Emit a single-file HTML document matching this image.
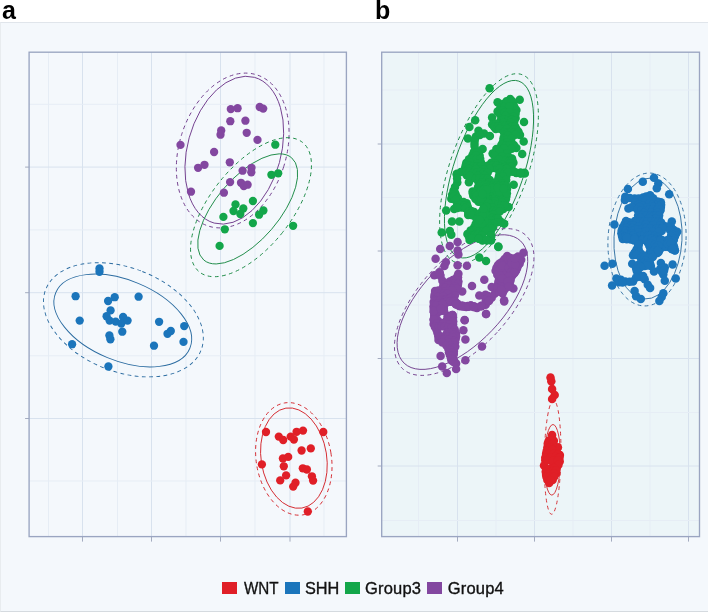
<!DOCTYPE html>
<html><head><meta charset="utf-8"><title>Figure</title>
<style>
html,body{margin:0;padding:0;background:#fff;}
body{width:709px;height:613px;position:relative;overflow:hidden;font-family:"Liberation Sans",sans-serif;}
.lab{position:absolute;font-weight:bold;font-size:25px;line-height:25px;color:#000;}
#bgbox{position:absolute;left:0;top:22px;width:707.7px;height:589.8px;background:#f4f8fc;border-top:1px solid #e0e5eb;border-left:1.7px solid #e8ecef;border-bottom:1px solid #d5dadf;box-sizing:border-box;}
svg{position:absolute;left:0;top:0;}
.leg{position:absolute;top:577.5px;font-size:16.5px;line-height:20px;color:#111;white-space:nowrap;transform-origin:0 50%;-webkit-text-stroke:0.35px #111;}
.sw{position:absolute;top:582px;width:15px;height:11.5px;}
</style></head><body>
<div id="bgbox"></div>
<div class="lab" style="left:2.1px;top:-2px;">a</div>
<div class="lab" style="left:375px;top:-2px;">b</div>
<svg width="709" height="613" viewBox="0 0 709 613">
<rect x="29.1" y="52.2" width="317.29999999999995" height="484.40000000000003" fill="#f4f8fc"/>
<line x1="48.5" y1="52.2" x2="48.5" y2="536.6" stroke="#e6edf5" stroke-width="1"/>
<line x1="82.5" y1="52.2" x2="82.5" y2="536.6" stroke="#d8e2ee" stroke-width="1"/>
<line x1="117.5" y1="52.2" x2="117.5" y2="536.6" stroke="#e6edf5" stroke-width="1"/>
<line x1="151.5" y1="52.2" x2="151.5" y2="536.6" stroke="#d8e2ee" stroke-width="1"/>
<line x1="186" y1="52.2" x2="186" y2="536.6" stroke="#e6edf5" stroke-width="1"/>
<line x1="220.5" y1="52.2" x2="220.5" y2="536.6" stroke="#d8e2ee" stroke-width="1"/>
<line x1="255" y1="52.2" x2="255" y2="536.6" stroke="#e6edf5" stroke-width="1"/>
<line x1="290" y1="52.2" x2="290" y2="536.6" stroke="#d8e2ee" stroke-width="1"/>
<line x1="324" y1="52.2" x2="324" y2="536.6" stroke="#e6edf5" stroke-width="1"/>
<line x1="29.1" y1="104.3" x2="346.4" y2="104.3" stroke="#e6edf5" stroke-width="1"/>
<line x1="29.1" y1="167.1" x2="346.4" y2="167.1" stroke="#d8e2ee" stroke-width="1"/>
<line x1="29.1" y1="229.9" x2="346.4" y2="229.9" stroke="#e6edf5" stroke-width="1"/>
<line x1="29.1" y1="292.7" x2="346.4" y2="292.7" stroke="#d8e2ee" stroke-width="1"/>
<line x1="29.1" y1="355.8" x2="346.4" y2="355.8" stroke="#e6edf5" stroke-width="1"/>
<line x1="29.1" y1="418.5" x2="346.4" y2="418.5" stroke="#d8e2ee" stroke-width="1"/>
<line x1="29.1" y1="481" x2="346.4" y2="481" stroke="#e6edf5" stroke-width="1"/>
<line x1="82.5" y1="536.6" x2="82.5" y2="541.6" stroke="#8f98b0" stroke-width="0.8"/>
<line x1="151.5" y1="536.6" x2="151.5" y2="541.6" stroke="#8f98b0" stroke-width="0.8"/>
<line x1="220.5" y1="536.6" x2="220.5" y2="541.6" stroke="#8f98b0" stroke-width="0.8"/>
<line x1="290" y1="536.6" x2="290" y2="541.6" stroke="#8f98b0" stroke-width="0.8"/>
<line x1="25.1" y1="167.1" x2="29.1" y2="167.1" stroke="#8f98b0" stroke-width="0.8"/>
<line x1="25.1" y1="292.7" x2="29.1" y2="292.7" stroke="#8f98b0" stroke-width="0.8"/>
<line x1="25.1" y1="418.5" x2="29.1" y2="418.5" stroke="#8f98b0" stroke-width="0.8"/>
<rect x="29.1" y="52.2" width="317.29999999999995" height="484.40000000000003" fill="none" stroke="#9aa5c1" stroke-width="1.35"/>
<rect x="381.7" y="52.2" width="317.8" height="484.40000000000003" fill="#ecf5f8"/>
<line x1="418.5" y1="52.2" x2="418.5" y2="536.6" stroke="#e6edf5" stroke-width="1"/>
<line x1="457.5" y1="52.2" x2="457.5" y2="536.6" stroke="#d8e2ee" stroke-width="1"/>
<line x1="496" y1="52.2" x2="496" y2="536.6" stroke="#e6edf5" stroke-width="1"/>
<line x1="534.5" y1="52.2" x2="534.5" y2="536.6" stroke="#d8e2ee" stroke-width="1"/>
<line x1="573" y1="52.2" x2="573" y2="536.6" stroke="#e6edf5" stroke-width="1"/>
<line x1="611.5" y1="52.2" x2="611.5" y2="536.6" stroke="#d8e2ee" stroke-width="1"/>
<line x1="650" y1="52.2" x2="650" y2="536.6" stroke="#e6edf5" stroke-width="1"/>
<line x1="688.5" y1="52.2" x2="688.5" y2="536.6" stroke="#d8e2ee" stroke-width="1"/>
<line x1="381.7" y1="90" x2="699.5" y2="90" stroke="#e6edf5" stroke-width="1"/>
<line x1="381.7" y1="144" x2="699.5" y2="144" stroke="#d8e2ee" stroke-width="1"/>
<line x1="381.7" y1="197.5" x2="699.5" y2="197.5" stroke="#e6edf5" stroke-width="1"/>
<line x1="381.7" y1="251" x2="699.5" y2="251" stroke="#d8e2ee" stroke-width="1"/>
<line x1="381.7" y1="305" x2="699.5" y2="305" stroke="#e6edf5" stroke-width="1"/>
<line x1="381.7" y1="358.5" x2="699.5" y2="358.5" stroke="#d8e2ee" stroke-width="1"/>
<line x1="381.7" y1="412.5" x2="699.5" y2="412.5" stroke="#e6edf5" stroke-width="1"/>
<line x1="381.7" y1="466" x2="699.5" y2="466" stroke="#d8e2ee" stroke-width="1"/>
<line x1="381.7" y1="520.5" x2="699.5" y2="520.5" stroke="#e6edf5" stroke-width="1"/>
<line x1="457.5" y1="536.6" x2="457.5" y2="541.6" stroke="#8f98b0" stroke-width="0.8"/>
<line x1="534.5" y1="536.6" x2="534.5" y2="541.6" stroke="#8f98b0" stroke-width="0.8"/>
<line x1="611.5" y1="536.6" x2="611.5" y2="541.6" stroke="#8f98b0" stroke-width="0.8"/>
<line x1="688.5" y1="536.6" x2="688.5" y2="541.6" stroke="#8f98b0" stroke-width="0.8"/>
<line x1="377.7" y1="144" x2="381.7" y2="144" stroke="#8f98b0" stroke-width="0.8"/>
<line x1="377.7" y1="251" x2="381.7" y2="251" stroke="#8f98b0" stroke-width="0.8"/>
<line x1="377.7" y1="358.5" x2="381.7" y2="358.5" stroke="#8f98b0" stroke-width="0.8"/>
<line x1="377.7" y1="466" x2="381.7" y2="466" stroke="#8f98b0" stroke-width="0.8"/>
<rect x="381.7" y="52.2" width="317.8" height="484.40000000000003" fill="none" stroke="#9aa5c1" stroke-width="1.35"/>
<ellipse cx="234.3" cy="150.2" rx="46.8" ry="75.6" transform="rotate(15.4 234.3 150.2)" fill="none" stroke="#733f8e" stroke-width="0.9"/>
<ellipse cx="232.7" cy="150.5" rx="53.5" ry="79.4" transform="rotate(17.6 232.7 150.5)" fill="none" stroke="#733f8e" stroke-width="0.9" stroke-dasharray="3.8 3.4"/>
<ellipse cx="247.7" cy="208.9" rx="31.4" ry="67.4" transform="rotate(40.7 247.7 208.9)" fill="none" stroke="#1d8b47" stroke-width="0.9"/>
<ellipse cx="251.0" cy="207.2" rx="40.4" ry="82.8" transform="rotate(38.5 251.0 207.2)" fill="none" stroke="#1d8b47" stroke-width="0.9" stroke-dasharray="3.8 3.4"/>
<ellipse cx="122.8" cy="320.5" rx="40.2" ry="72.6" transform="rotate(-67.5 122.8 320.5)" fill="none" stroke="#2a6ba0" stroke-width="0.9"/>
<ellipse cx="123.4" cy="319.8" rx="51.9" ry="83.4" transform="rotate(-68.6 123.4 319.8)" fill="none" stroke="#2a6ba0" stroke-width="0.9" stroke-dasharray="3.8 3.4"/>
<ellipse cx="293.9" cy="458.1" rx="32.8" ry="50.6" transform="rotate(-9.1 293.9 458.1)" fill="none" stroke="#d3242a" stroke-width="0.9"/>
<ellipse cx="293.8" cy="458.9" rx="37.6" ry="56.7" transform="rotate(-9.3 293.8 458.9)" fill="none" stroke="#d3242a" stroke-width="0.9" stroke-dasharray="3.8 3.4"/>
<g fill="#8347a0"><circle cx="230.8" cy="109.1" r="4.15"/><circle cx="237.6" cy="108.2" r="4.15"/><circle cx="259.7" cy="107" r="4.15"/><circle cx="263.2" cy="108.6" r="4.15"/><circle cx="230.3" cy="121.2" r="4.15"/><circle cx="245.4" cy="120.7" r="4.15"/><circle cx="221.2" cy="130.5" r="4.15"/><circle cx="220.5" cy="134.7" r="4.15"/><circle cx="246.7" cy="132.8" r="4.15"/><circle cx="257.5" cy="139.9" r="4.15"/><circle cx="180.5" cy="144.9" r="4.15"/><circle cx="214.1" cy="152" r="4.15"/><circle cx="204.5" cy="164.8" r="4.15"/><circle cx="198.1" cy="167.8" r="4.15"/><circle cx="229.8" cy="162.3" r="4.15"/><circle cx="242.6" cy="170.7" r="4.15"/><circle cx="251.5" cy="167.8" r="4.15"/><circle cx="251.3" cy="172.3" r="4.15"/><circle cx="230.1" cy="182.1" r="4.15"/><circle cx="241" cy="182.8" r="4.15"/><circle cx="243.8" cy="186" r="4.15"/><circle cx="247.6" cy="184.7" r="4.15"/><circle cx="191" cy="191.7" r="4.15"/><circle cx="223.9" cy="192.7" r="4.15"/></g>
<g fill="#13a64a"><circle cx="275.3" cy="144.7" r="4.15"/><circle cx="271.4" cy="174.8" r="4.15"/><circle cx="278.2" cy="173.3" r="4.15"/><circle cx="252.9" cy="201" r="4.15"/><circle cx="235.5" cy="204.4" r="4.15"/><circle cx="243.3" cy="208.5" r="4.15"/><circle cx="233.5" cy="211" r="4.15"/><circle cx="240.3" cy="214" r="4.15"/><circle cx="263.4" cy="210.5" r="4.15"/><circle cx="259.1" cy="214.7" r="4.15"/><circle cx="223.4" cy="216.9" r="4.15"/><circle cx="252.9" cy="223.1" r="4.15"/><circle cx="224.8" cy="229.3" r="4.15"/><circle cx="293.1" cy="225.8" r="4.15"/><circle cx="219.6" cy="245.9" r="4.15"/></g>
<g fill="#1b75bb"><circle cx="99.5" cy="268.5" r="4.15"/><circle cx="99.5" cy="271.8" r="4.15"/><circle cx="75.6" cy="296.2" r="4.15"/><circle cx="114.7" cy="297.2" r="4.15"/><circle cx="108.1" cy="301" r="4.15"/><circle cx="138.6" cy="296.7" r="4.15"/><circle cx="110.6" cy="310.4" r="4.15"/><circle cx="106.6" cy="316.2" r="4.15"/><circle cx="109.6" cy="320.6" r="4.15"/><circle cx="115.7" cy="321.6" r="4.15"/><circle cx="123.1" cy="317" r="4.15"/><circle cx="121.3" cy="323.6" r="4.15"/><circle cx="127.6" cy="320.6" r="4.15"/><circle cx="79.7" cy="320.6" r="4.15"/><circle cx="122.3" cy="331.7" r="4.15"/><circle cx="109.4" cy="335.5" r="4.15"/><circle cx="110.4" cy="339.3" r="4.15"/><circle cx="159.1" cy="321.8" r="4.15"/><circle cx="170.8" cy="331" r="4.15"/><circle cx="167.5" cy="333.8" r="4.15"/><circle cx="184.2" cy="326.1" r="4.15"/><circle cx="183.5" cy="341.9" r="4.15"/><circle cx="154" cy="345.7" r="4.15"/><circle cx="72.1" cy="344.2" r="4.15"/><circle cx="108.4" cy="366.5" r="4.15"/></g>
<g fill="#e01f27"><circle cx="266" cy="432" r="4.15"/><circle cx="323.3" cy="432" r="4.15"/><circle cx="278.8" cy="436.6" r="4.15"/><circle cx="283.2" cy="440" r="4.15"/><circle cx="290.7" cy="436.6" r="4.15"/><circle cx="293.9" cy="439.5" r="4.15"/><circle cx="296.6" cy="431.8" r="4.15"/><circle cx="303" cy="430.6" r="4.15"/><circle cx="301.6" cy="450.5" r="4.15"/><circle cx="310.8" cy="448.4" r="4.15"/><circle cx="282.9" cy="458.5" r="4.15"/><circle cx="288.2" cy="456.9" r="4.15"/><circle cx="261.9" cy="464.4" r="4.15"/><circle cx="283.8" cy="466.3" r="4.15"/><circle cx="302.8" cy="468.3" r="4.15"/><circle cx="306.9" cy="469.5" r="4.15"/><circle cx="311.9" cy="476.3" r="4.15"/><circle cx="313.1" cy="480.6" r="4.15"/><circle cx="286.1" cy="475.4" r="4.15"/><circle cx="280.2" cy="480.4" r="4.15"/><circle cx="295.5" cy="482.7" r="4.15"/><circle cx="293.2" cy="486.6" r="4.15"/><circle cx="307.8" cy="511.5" r="4.15"/></g>
<ellipse cx="489.0" cy="169.2" rx="35" ry="93" transform="rotate(18.7 489.0 169.2)" fill="none" stroke="#1d8b47" stroke-width="0.9"/>
<ellipse cx="489.0" cy="168.6" rx="39" ry="99.6" transform="rotate(19.3 489.0 168.6)" fill="none" stroke="#1d8b47" stroke-width="0.9" stroke-dasharray="3.8 3.4"/>
<ellipse cx="462.4" cy="302.1" rx="41.0" ry="84.4" transform="rotate(43.6 462.4 302.1)" fill="none" stroke="#733f8e" stroke-width="0.9"/>
<ellipse cx="464.2" cy="302.0" rx="44.8" ry="90.8" transform="rotate(42.6 464.2 302.0)" fill="none" stroke="#733f8e" stroke-width="0.9" stroke-dasharray="3.8 3.4"/>
<ellipse cx="648" cy="238.5" rx="34" ry="60.5" transform="rotate(3 648 238.5)" fill="none" stroke="#2a6ba0" stroke-width="0.9"/>
<ellipse cx="647" cy="239.5" rx="39" ry="66.5" transform="rotate(3 647 239.5)" fill="none" stroke="#2a6ba0" stroke-width="0.9" stroke-dasharray="3.8 3.4"/>
<ellipse cx="552.4" cy="459.8" rx="8.1" ry="35.3" transform="rotate(1 552.4 459.8)" fill="none" stroke="#d3242a" stroke-width="0.9"/>
<ellipse cx="552.6" cy="457.3" rx="8.3" ry="57" transform="rotate(1 552.6 457.3)" fill="none" stroke="#d3242a" stroke-width="0.9" stroke-dasharray="3.8 3.4"/>
<g fill="#13a64a"><circle cx="489.6" cy="88.2" r="4.25"/><circle cx="510.2" cy="99" r="4.25"/><circle cx="519.7" cy="99.7" r="4.25"/><circle cx="497.6" cy="102.3" r="4.25"/><circle cx="503.1" cy="104.1" r="4.25"/><circle cx="513.4" cy="104.1" r="4.25"/><circle cx="516.4" cy="110" r="4.25"/><circle cx="497.6" cy="111.4" r="4.25"/><circle cx="506.8" cy="109.2" r="4.25"/><circle cx="492.1" cy="117.6" r="4.25"/><circle cx="501.7" cy="116.6" r="4.25"/><circle cx="510.5" cy="115.8" r="4.25"/><circle cx="515.6" cy="118" r="4.25"/><circle cx="524" cy="122" r="4.25"/><circle cx="492.1" cy="124.6" r="4.25"/><circle cx="500.2" cy="123.2" r="4.25"/><circle cx="507.5" cy="122.4" r="4.25"/><circle cx="513.4" cy="123.9" r="4.25"/><circle cx="495.8" cy="129" r="4.25"/><circle cx="503.1" cy="129" r="4.25"/><circle cx="510.5" cy="129" r="4.25"/><circle cx="516.4" cy="129" r="4.25"/><circle cx="475.2" cy="120.2" r="4.25"/><circle cx="469.4" cy="126.9" r="4.25"/><circle cx="478.5" cy="130.8" r="4.25"/><circle cx="484.1" cy="133.5" r="4.25"/><circle cx="489.9" cy="136.1" r="4.25"/><circle cx="467.9" cy="138.6" r="4.25"/><circle cx="476" cy="136.4" r="4.25"/><circle cx="474.5" cy="143" r="4.25"/><circle cx="504.6" cy="135.7" r="4.25"/><circle cx="512" cy="134.9" r="4.25"/><circle cx="520" cy="134.9" r="4.25"/><circle cx="523.7" cy="141.5" r="4.25"/><circle cx="503.1" cy="141.5" r="4.25"/><circle cx="510.5" cy="142.3" r="4.25"/><circle cx="516.4" cy="148.1" r="4.25"/><circle cx="522.2" cy="154" r="4.25"/><circle cx="482.6" cy="148.9" r="4.25"/><circle cx="475.2" cy="149.6" r="4.25"/><circle cx="500.2" cy="148.1" r="4.25"/><circle cx="507.5" cy="149.6" r="4.25"/><circle cx="472.3" cy="155.5" r="4.25"/><circle cx="479.6" cy="155.5" r="4.25"/><circle cx="498.7" cy="155.5" r="4.25"/><circle cx="506.1" cy="157" r="4.25"/><circle cx="512" cy="158.4" r="4.25"/><circle cx="466.4" cy="162.8" r="4.25"/><circle cx="473.8" cy="162.8" r="4.25"/><circle cx="481.1" cy="162.8" r="4.25"/><circle cx="491.4" cy="162.8" r="4.25"/><circle cx="498.7" cy="164.3" r="4.25"/><circle cx="506.1" cy="164.3" r="4.25"/><circle cx="513.4" cy="162.8" r="4.25"/><circle cx="465" cy="169.4" r="4.25"/><circle cx="472.3" cy="170.2" r="4.25"/><circle cx="479.6" cy="170.2" r="4.25"/><circle cx="485.5" cy="169.4" r="4.25"/><circle cx="500.2" cy="170.2" r="4.25"/><circle cx="507.5" cy="170.2" r="4.25"/><circle cx="456.9" cy="173.8" r="4.25"/><circle cx="516.4" cy="172.8" r="4.25"/><circle cx="524.4" cy="172.8" r="4.25"/><circle cx="465.2" cy="167.9" r="4.25"/><circle cx="472.6" cy="169.4" r="4.25"/><circle cx="479.9" cy="169.4" r="4.25"/><circle cx="486.5" cy="169.4" r="4.25"/><circle cx="494.6" cy="167.9" r="4.25"/><circle cx="503.4" cy="168.7" r="4.25"/><circle cx="510" cy="169.4" r="4.25"/><circle cx="516.3" cy="173.1" r="4.25"/><circle cx="524.7" cy="173.5" r="4.25"/><circle cx="456.7" cy="174.5" r="4.25"/><circle cx="466.7" cy="175.3" r="4.25"/><circle cx="474.1" cy="176" r="4.25"/><circle cx="481.4" cy="175.3" r="4.25"/><circle cx="499" cy="176" r="4.25"/><circle cx="506.4" cy="176" r="4.25"/><circle cx="457.3" cy="182.6" r="4.25"/><circle cx="468.9" cy="182.3" r="4.25"/><circle cx="478.5" cy="181.9" r="4.25"/><circle cx="485.8" cy="181.9" r="4.25"/><circle cx="491.7" cy="183.4" r="4.25"/><circle cx="498.3" cy="183.4" r="4.25"/><circle cx="505.6" cy="184.1" r="4.25"/><circle cx="513.7" cy="184.8" r="4.25"/><circle cx="453.5" cy="190.7" r="4.25"/><circle cx="455.7" cy="194.4" r="4.25"/><circle cx="472.6" cy="191.4" r="4.25"/><circle cx="478.5" cy="190.7" r="4.25"/><circle cx="473.3" cy="195.8" r="4.25"/><circle cx="487.3" cy="196.6" r="4.25"/><circle cx="494.6" cy="196.6" r="4.25"/><circle cx="499" cy="195.8" r="4.25"/><circle cx="506.4" cy="196.6" r="4.25"/><circle cx="451.3" cy="198.8" r="4.25"/><circle cx="459.4" cy="201.7" r="4.25"/><circle cx="466.7" cy="203.2" r="4.25"/><circle cx="478.5" cy="201.7" r="4.25"/><circle cx="484.3" cy="201.7" r="4.25"/><circle cx="491.7" cy="200.2" r="4.25"/><circle cx="499" cy="202.4" r="4.25"/><circle cx="504.9" cy="201.7" r="4.25"/><circle cx="446.2" cy="210.5" r="4.25"/><circle cx="454.2" cy="209.1" r="4.25"/><circle cx="461.6" cy="207.6" r="4.25"/><circle cx="468.2" cy="209.1" r="4.25"/><circle cx="474.1" cy="212" r="4.25"/><circle cx="488.7" cy="207.6" r="4.25"/><circle cx="496.1" cy="207.6" r="4.25"/><circle cx="503.4" cy="209.1" r="4.25"/><circle cx="508.6" cy="206.9" r="4.25"/><circle cx="468.2" cy="214.9" r="4.25"/><circle cx="475.5" cy="216.4" r="4.25"/><circle cx="490.2" cy="214.9" r="4.25"/><circle cx="496.1" cy="214.9" r="4.25"/><circle cx="452" cy="221.5" r="4.25"/><circle cx="459.4" cy="221.5" r="4.25"/><circle cx="488.7" cy="220.8" r="4.25"/><circle cx="494.6" cy="222.3" r="4.25"/><circle cx="500.5" cy="221.5" r="4.25"/><circle cx="504.2" cy="223.7" r="4.25"/><circle cx="474.1" cy="227.4" r="4.25"/><circle cx="479.9" cy="225.2" r="4.25"/><circle cx="485.8" cy="225.2" r="4.25"/><circle cx="491.7" cy="226.7" r="4.25"/><circle cx="441.7" cy="232.5" r="4.25"/><circle cx="449.8" cy="231.1" r="4.25"/><circle cx="451.3" cy="234.8" r="4.25"/><circle cx="467.4" cy="234" r="4.25"/><circle cx="474.1" cy="232.5" r="4.25"/><circle cx="481.4" cy="231.1" r="4.25"/><circle cx="490.9" cy="231.1" r="4.25"/><circle cx="469.6" cy="239.9" r="4.25"/><circle cx="475.5" cy="237.7" r="4.25"/><circle cx="482.9" cy="239.9" r="4.25"/><circle cx="490.9" cy="239.9" r="4.25"/><circle cx="498.3" cy="246.5" r="4.25"/><circle cx="483" cy="187.5" r="4.25"/><circle cx="489" cy="188.2" r="4.25"/><circle cx="495" cy="187.5" r="4.25"/><circle cx="501" cy="188.5" r="4.25"/><circle cx="507" cy="189" r="4.25"/><circle cx="481.5" cy="212" r="4.25"/><circle cx="483" cy="218" r="4.25"/><circle cx="477.5" cy="221.5" r="4.25"/><circle cx="484.5" cy="206.5" r="4.25"/><circle cx="480.5" cy="196" r="4.25"/><circle cx="484" cy="192" r="4.25"/><circle cx="498.4" cy="247.1" r="4.25"/><circle cx="479.3" cy="257.5" r="4.25"/><circle cx="486" cy="261.1" r="4.25"/><circle cx="491" cy="240.4" r="4.25"/><circle cx="482.4" cy="240.4" r="4.25"/><circle cx="506.5" cy="101.2" r="4.25"/><circle cx="512.0" cy="101.1" r="4.25"/><circle cx="500.4" cy="107.6" r="4.25"/><circle cx="504.5" cy="106.7" r="4.25"/><circle cx="514.4" cy="107.0" r="4.25"/><circle cx="509.7" cy="106.2" r="4.25"/><circle cx="513.4" cy="113.2" r="4.25"/><circle cx="515.6" cy="113.7" r="4.25"/><circle cx="502.3" cy="110.7" r="4.25"/><circle cx="499.7" cy="113.9" r="4.25"/><circle cx="504.7" cy="112.4" r="4.25"/><circle cx="509.0" cy="112.3" r="4.25"/><circle cx="505.7" cy="115.8" r="4.25"/><circle cx="500.8" cy="120.2" r="4.25"/><circle cx="504.3" cy="119.6" r="4.25"/><circle cx="513.2" cy="116.8" r="4.25"/><circle cx="509.0" cy="118.7" r="4.25"/><circle cx="511.5" cy="119.6" r="4.25"/><circle cx="511.7" cy="120.1" r="4.25"/><circle cx="514.3" cy="121.0" r="4.25"/><circle cx="496.1" cy="123.7" r="4.25"/><circle cx="494.2" cy="127.0" r="4.25"/><circle cx="503.6" cy="122.9" r="4.25"/><circle cx="498.0" cy="126.5" r="4.25"/><circle cx="501.9" cy="125.9" r="4.25"/><circle cx="510.9" cy="122.8" r="4.25"/><circle cx="505.2" cy="126.0" r="4.25"/><circle cx="508.7" cy="125.7" r="4.25"/><circle cx="511.5" cy="126.6" r="4.25"/><circle cx="515.2" cy="126.5" r="4.25"/><circle cx="499.8" cy="128.8" r="4.25"/><circle cx="507.0" cy="129.1" r="4.25"/><circle cx="503.9" cy="132.3" r="4.25"/><circle cx="513.8" cy="129.4" r="4.25"/><circle cx="507.5" cy="132.5" r="4.25"/><circle cx="510.8" cy="132.2" r="4.25"/><circle cx="514.3" cy="132.4" r="4.25"/><circle cx="518.5" cy="131.7" r="4.25"/><circle cx="479.9" cy="135.1" r="4.25"/><circle cx="474.8" cy="139.7" r="4.25"/><circle cx="474.5" cy="145.9" r="4.25"/><circle cx="507.9" cy="135.6" r="4.25"/><circle cx="503.5" cy="138.3" r="4.25"/><circle cx="507.4" cy="139.4" r="4.25"/><circle cx="515.6" cy="134.8" r="4.25"/><circle cx="511.3" cy="139.0" r="4.25"/><circle cx="507.1" cy="142.3" r="4.25"/><circle cx="501.4" cy="144.7" r="4.25"/><circle cx="505.2" cy="145.9" r="4.25"/><circle cx="513.9" cy="144.9" r="4.25"/><circle cx="508.7" cy="145.7" r="4.25"/><circle cx="511.7" cy="148.8" r="4.25"/><circle cx="473.8" cy="152.3" r="4.25"/><circle cx="476.9" cy="152.5" r="4.25"/><circle cx="496.4" cy="148.9" r="4.25"/><circle cx="492.6" cy="153.5" r="4.25"/><circle cx="495.8" cy="152.7" r="4.25"/><circle cx="504.0" cy="148.4" r="4.25"/><circle cx="499.8" cy="152.1" r="4.25"/><circle cx="507.2" cy="153.6" r="4.25"/><circle cx="475.8" cy="155.4" r="4.25"/><circle cx="469.0" cy="159.3" r="4.25"/><circle cx="472.6" cy="158.7" r="4.25"/><circle cx="476.4" cy="158.8" r="4.25"/><circle cx="480.2" cy="158.7" r="4.25"/><circle cx="494.6" cy="155.9" r="4.25"/><circle cx="501.9" cy="156.6" r="4.25"/><circle cx="498.8" cy="159.5" r="4.25"/><circle cx="508.8" cy="157.5" r="4.25"/><circle cx="506.0" cy="160.3" r="4.25"/><circle cx="510.1" cy="160.4" r="4.25"/><circle cx="509.0" cy="161.3" r="4.25"/><circle cx="512.3" cy="160.2" r="4.25"/><circle cx="469.9" cy="162.6" r="4.25"/><circle cx="466.0" cy="165.8" r="4.25"/><circle cx="468.9" cy="167.0" r="4.25"/><circle cx="465.8" cy="165.0" r="4.25"/><circle cx="469.5" cy="165.6" r="4.25"/><circle cx="477.5" cy="163.3" r="4.25"/><circle cx="473.4" cy="166.7" r="4.25"/><circle cx="476.5" cy="166.4" r="4.25"/><circle cx="472.9" cy="166.4" r="4.25"/><circle cx="476.9" cy="166.4" r="4.25"/><circle cx="480.2" cy="166.2" r="4.25"/><circle cx="483.6" cy="166.6" r="4.25"/><circle cx="480.9" cy="166.4" r="4.25"/><circle cx="484.1" cy="166.3" r="4.25"/><circle cx="494.8" cy="163.6" r="4.25"/><circle cx="488.3" cy="165.6" r="4.25"/><circle cx="491.7" cy="166.3" r="4.25"/><circle cx="488.7" cy="166.3" r="4.25"/><circle cx="493.5" cy="165.3" r="4.25"/><circle cx="502.8" cy="164.8" r="4.25"/><circle cx="496.3" cy="167.1" r="4.25"/><circle cx="499.2" cy="167.0" r="4.25"/><circle cx="496.3" cy="165.8" r="4.25"/><circle cx="501.2" cy="166.9" r="4.25"/><circle cx="510.1" cy="163.5" r="4.25"/><circle cx="503.3" cy="167.5" r="4.25"/><circle cx="506.4" cy="167.4" r="4.25"/><circle cx="505.2" cy="166.8" r="4.25"/><circle cx="508.3" cy="166.8" r="4.25"/><circle cx="510.1" cy="166.8" r="4.25"/><circle cx="511.5" cy="166.4" r="4.25"/><circle cx="469.1" cy="169.7" r="4.25"/><circle cx="460.9" cy="172.0" r="4.25"/><circle cx="469.0" cy="169.1" r="4.25"/><circle cx="465.5" cy="172.0" r="4.25"/><circle cx="476.4" cy="170.5" r="4.25"/><circle cx="468.4" cy="169.4" r="4.25"/><circle cx="476.6" cy="170.0" r="4.25"/><circle cx="469.4" cy="172.8" r="4.25"/><circle cx="472.8" cy="172.6" r="4.25"/><circle cx="483.0" cy="169.9" r="4.25"/><circle cx="476.1" cy="170.2" r="4.25"/><circle cx="483.0" cy="170.2" r="4.25"/><circle cx="477.2" cy="172.8" r="4.25"/><circle cx="480.3" cy="172.5" r="4.25"/><circle cx="488.9" cy="169.9" r="4.25"/><circle cx="482.5" cy="169.3" r="4.25"/><circle cx="489.7" cy="169.1" r="4.25"/><circle cx="483.3" cy="172.3" r="4.25"/><circle cx="487.2" cy="173.1" r="4.25"/><circle cx="503.5" cy="170.2" r="4.25"/><circle cx="497.6" cy="169.1" r="4.25"/><circle cx="501.6" cy="169.5" r="4.25"/><circle cx="499.7" cy="173.4" r="4.25"/><circle cx="502.9" cy="173.2" r="4.25"/><circle cx="511.7" cy="171.3" r="4.25"/><circle cx="505.7" cy="169.5" r="4.25"/><circle cx="508.8" cy="170.1" r="4.25"/><circle cx="512.3" cy="171.6" r="4.25"/><circle cx="507.1" cy="173.1" r="4.25"/><circle cx="457.1" cy="178.4" r="4.25"/><circle cx="520.4" cy="172.8" r="4.25"/><circle cx="513.2" cy="171.5" r="4.25"/><circle cx="520.7" cy="173.5" r="4.25"/><circle cx="520.8" cy="172.7" r="4.25"/><circle cx="469.0" cy="169.1" r="4.25"/><circle cx="466.3" cy="171.2" r="4.25"/><circle cx="475.9" cy="169.3" r="4.25"/><circle cx="469.2" cy="172.1" r="4.25"/><circle cx="472.9" cy="172.9" r="4.25"/><circle cx="483.5" cy="169.8" r="4.25"/><circle cx="476.7" cy="172.9" r="4.25"/><circle cx="480.8" cy="172.0" r="4.25"/><circle cx="483.7" cy="172.8" r="4.25"/><circle cx="487.5" cy="172.7" r="4.25"/><circle cx="499.5" cy="168.6" r="4.25"/><circle cx="506.7" cy="168.9" r="4.25"/><circle cx="500.9" cy="172.2" r="4.25"/><circle cx="505.1" cy="171.9" r="4.25"/><circle cx="513.2" cy="171.2" r="4.25"/><circle cx="507.7" cy="172.5" r="4.25"/><circle cx="520.6" cy="173.3" r="4.25"/><circle cx="470.0" cy="176.1" r="4.25"/><circle cx="478.0" cy="176.1" r="4.25"/><circle cx="475.9" cy="178.7" r="4.25"/><circle cx="484.6" cy="175.9" r="4.25"/><circle cx="479.7" cy="178.2" r="4.25"/><circle cx="483.5" cy="179.0" r="4.25"/><circle cx="487.6" cy="178.7" r="4.25"/><circle cx="489.8" cy="180.1" r="4.25"/><circle cx="502.8" cy="176.2" r="4.25"/><circle cx="498.2" cy="179.3" r="4.25"/><circle cx="506.2" cy="180.0" r="4.25"/><circle cx="455.0" cy="187.1" r="4.25"/><circle cx="482.3" cy="182.2" r="4.25"/><circle cx="478.1" cy="186.7" r="4.25"/><circle cx="480.3" cy="185.1" r="4.25"/><circle cx="488.7" cy="182.5" r="4.25"/><circle cx="484.5" cy="185.1" r="4.25"/><circle cx="487.2" cy="184.7" r="4.25"/><circle cx="495.0" cy="183.1" r="4.25"/><circle cx="490.0" cy="185.5" r="4.25"/><circle cx="492.9" cy="185.2" r="4.25"/><circle cx="501.8" cy="183.6" r="4.25"/><circle cx="496.9" cy="185.2" r="4.25"/><circle cx="499.7" cy="185.6" r="4.25"/><circle cx="503.1" cy="185.8" r="4.25"/><circle cx="506.1" cy="186.1" r="4.25"/><circle cx="454.8" cy="192.6" r="4.25"/><circle cx="452.1" cy="194.7" r="4.25"/><circle cx="453.9" cy="196.2" r="4.25"/><circle cx="457.9" cy="198.0" r="4.25"/><circle cx="475.5" cy="191.4" r="4.25"/><circle cx="472.8" cy="193.6" r="4.25"/><circle cx="476.7" cy="194.2" r="4.25"/><circle cx="475.7" cy="193.6" r="4.25"/><circle cx="481.0" cy="189.2" r="4.25"/><circle cx="479.4" cy="193.2" r="4.25"/><circle cx="480.8" cy="191.0" r="4.25"/><circle cx="475.5" cy="199.0" r="4.25"/><circle cx="476.7" cy="195.6" r="4.25"/><circle cx="490.5" cy="196.9" r="4.25"/><circle cx="486.2" cy="199.3" r="4.25"/><circle cx="489.3" cy="198.1" r="4.25"/><circle cx="487.9" cy="192.4" r="4.25"/><circle cx="483.6" cy="196.2" r="4.25"/><circle cx="485.4" cy="194.8" r="4.25"/><circle cx="497.3" cy="196.2" r="4.25"/><circle cx="492.9" cy="198.9" r="4.25"/><circle cx="496.6" cy="199.4" r="4.25"/><circle cx="494.3" cy="191.9" r="4.25"/><circle cx="502.7" cy="196.2" r="4.25"/><circle cx="495.1" cy="198.0" r="4.25"/><circle cx="498.5" cy="198.9" r="4.25"/><circle cx="501.5" cy="198.6" r="4.25"/><circle cx="496.5" cy="191.2" r="4.25"/><circle cx="499.8" cy="191.9" r="4.25"/><circle cx="502.8" cy="199.5" r="4.25"/><circle cx="505.9" cy="199.3" r="4.25"/><circle cx="506.9" cy="193.2" r="4.25"/><circle cx="455.2" cy="200.1" r="4.25"/><circle cx="463.5" cy="202.1" r="4.25"/><circle cx="457.0" cy="205.5" r="4.25"/><circle cx="460.0" cy="205.0" r="4.25"/><circle cx="464.5" cy="205.5" r="4.25"/><circle cx="467.7" cy="206.5" r="4.25"/><circle cx="481.0" cy="201.7" r="4.25"/><circle cx="479.8" cy="199.2" r="4.25"/><circle cx="488.1" cy="201.3" r="4.25"/><circle cx="486.7" cy="204.8" r="4.25"/><circle cx="484.1" cy="203.6" r="4.25"/><circle cx="482.0" cy="198.7" r="4.25"/><circle cx="495.0" cy="201.6" r="4.25"/><circle cx="490.3" cy="204.0" r="4.25"/><circle cx="494.0" cy="204.1" r="4.25"/><circle cx="488.1" cy="202.9" r="4.25"/><circle cx="502.2" cy="202.3" r="4.25"/><circle cx="497.6" cy="205.0" r="4.25"/><circle cx="501.4" cy="205.3" r="4.25"/><circle cx="504.4" cy="205.2" r="4.25"/><circle cx="457.5" cy="208.1" r="4.25"/><circle cx="465.1" cy="208.1" r="4.25"/><circle cx="471.4" cy="211.0" r="4.25"/><circle cx="468.2" cy="211.9" r="4.25"/><circle cx="471.1" cy="213.6" r="4.25"/><circle cx="475.1" cy="214.3" r="4.25"/><circle cx="492.0" cy="207.4" r="4.25"/><circle cx="489.7" cy="211.1" r="4.25"/><circle cx="485.2" cy="209.3" r="4.25"/><circle cx="486.2" cy="206.8" r="4.25"/><circle cx="499.9" cy="208.5" r="4.25"/><circle cx="493.3" cy="211.0" r="4.25"/><circle cx="496.1" cy="211.2" r="4.25"/><circle cx="499.7" cy="211.6" r="4.25"/><circle cx="472.2" cy="215.3" r="4.25"/><circle cx="479.0" cy="214.6" r="4.25"/><circle cx="478.8" cy="217.2" r="4.25"/><circle cx="476.8" cy="219.4" r="4.25"/><circle cx="493.1" cy="214.7" r="4.25"/><circle cx="489.2" cy="218.3" r="4.25"/><circle cx="492.1" cy="218.7" r="4.25"/><circle cx="485.5" cy="213.5" r="4.25"/><circle cx="487.1" cy="216.1" r="4.25"/><circle cx="492.7" cy="217.9" r="4.25"/><circle cx="495.7" cy="218.8" r="4.25"/><circle cx="498.0" cy="218.6" r="4.25"/><circle cx="491.6" cy="221.1" r="4.25"/><circle cx="486.8" cy="223.0" r="4.25"/><circle cx="490.2" cy="223.6" r="4.25"/><circle cx="485.5" cy="219.2" r="4.25"/><circle cx="497.4" cy="222.2" r="4.25"/><circle cx="489.7" cy="224.0" r="4.25"/><circle cx="493.5" cy="224.1" r="4.25"/><circle cx="493.2" cy="226.9" r="4.25"/><circle cx="477.4" cy="226.1" r="4.25"/><circle cx="470.6" cy="230.6" r="4.25"/><circle cx="474.6" cy="230.0" r="4.25"/><circle cx="477.6" cy="229.2" r="4.25"/><circle cx="475.6" cy="224.0" r="4.25"/><circle cx="482.5" cy="225.5" r="4.25"/><circle cx="476.8" cy="229.3" r="4.25"/><circle cx="480.4" cy="227.9" r="4.25"/><circle cx="481.5" cy="221.3" r="4.25"/><circle cx="478.6" cy="223.8" r="4.25"/><circle cx="489.1" cy="226.3" r="4.25"/><circle cx="483.7" cy="228.6" r="4.25"/><circle cx="488.8" cy="228.2" r="4.25"/><circle cx="484.6" cy="221.1" r="4.25"/><circle cx="481.9" cy="223.3" r="4.25"/><circle cx="491.6" cy="229.0" r="4.25"/><circle cx="470.5" cy="232.8" r="4.25"/><circle cx="468.9" cy="236.6" r="4.25"/><circle cx="471.4" cy="235.7" r="4.25"/><circle cx="477.5" cy="232.0" r="4.25"/><circle cx="472.3" cy="236.0" r="4.25"/><circle cx="475.0" cy="234.9" r="4.25"/><circle cx="486.2" cy="231.0" r="4.25"/><circle cx="478.1" cy="234.1" r="4.25"/><circle cx="481.9" cy="235.9" r="4.25"/><circle cx="481.9" cy="235.5" r="4.25"/><circle cx="491.3" cy="236.0" r="4.25"/><circle cx="490.9" cy="235.4" r="4.25"/><circle cx="472.2" cy="238.4" r="4.25"/><circle cx="479.0" cy="238.4" r="4.25"/><circle cx="478.7" cy="238.8" r="4.25"/><circle cx="487.0" cy="240.3" r="4.25"/><circle cx="487.2" cy="240.1" r="4.25"/><circle cx="486.6" cy="240.2" r="4.25"/><circle cx="485.9" cy="187.7" r="4.25"/><circle cx="481.3" cy="191.5" r="4.25"/><circle cx="484.0" cy="189.4" r="4.25"/><circle cx="492.0" cy="188.0" r="4.25"/><circle cx="486.9" cy="189.8" r="4.25"/><circle cx="497.8" cy="187.7" r="4.25"/><circle cx="503.9" cy="188.7" r="4.25"/><circle cx="482.7" cy="215.3" r="4.25"/><circle cx="483.4" cy="208.8" r="4.25"/><circle cx="479.8" cy="220.0" r="4.25"/><circle cx="482.6" cy="194.0" r="4.25"/><circle cx="486.8" cy="239.9" r="4.25"/></g>
<g fill="#8347a0"><circle cx="457.6" cy="242" r="4.25"/><circle cx="449.8" cy="245.9" r="4.25"/><circle cx="440.2" cy="249" r="4.25"/><circle cx="457.6" cy="250.5" r="4.25"/><circle cx="458.4" cy="254.4" r="4.25"/><circle cx="435.6" cy="258.7" r="4.25"/><circle cx="445.9" cy="262.2" r="4.25"/><circle cx="444.4" cy="266" r="4.25"/><circle cx="457.6" cy="265.3" r="4.25"/><circle cx="466.9" cy="265.7" r="4.25"/><circle cx="439.7" cy="272.2" r="4.25"/><circle cx="434.3" cy="275.3" r="4.25"/><circle cx="440.5" cy="276.1" r="4.25"/><circle cx="458.4" cy="273.8" r="4.25"/><circle cx="456" cy="278.4" r="4.25"/><circle cx="449.8" cy="281.5" r="4.25"/><circle cx="458.4" cy="281.5" r="4.25"/><circle cx="443.6" cy="284.7" r="4.25"/><circle cx="451.4" cy="286.2" r="4.25"/><circle cx="457.6" cy="286.2" r="4.25"/><circle cx="435.1" cy="290.9" r="4.25"/><circle cx="442.1" cy="290.9" r="4.25"/><circle cx="448.3" cy="290.9" r="4.25"/><circle cx="455.3" cy="290.9" r="4.25"/><circle cx="462.2" cy="291.6" r="4.25"/><circle cx="434.3" cy="297.1" r="4.25"/><circle cx="440.5" cy="297.1" r="4.25"/><circle cx="446.7" cy="296.3" r="4.25"/><circle cx="435.1" cy="303.3" r="4.25"/><circle cx="441.3" cy="303.3" r="4.25"/><circle cx="448.3" cy="301.7" r="4.25"/><circle cx="454.5" cy="300.2" r="4.25"/><circle cx="458.4" cy="305.6" r="4.25"/><circle cx="464.6" cy="306.4" r="4.25"/><circle cx="470.8" cy="305.6" r="4.25"/><circle cx="477" cy="307.9" r="4.25"/><circle cx="434.3" cy="309.5" r="4.25"/><circle cx="440.5" cy="309.5" r="4.25"/><circle cx="434.3" cy="315.7" r="4.25"/><circle cx="448.3" cy="315.7" r="4.25"/><circle cx="452.9" cy="317.2" r="4.25"/><circle cx="435.1" cy="321.9" r="4.25"/><circle cx="449.8" cy="321.9" r="4.25"/><circle cx="464.6" cy="320" r="4.25"/><circle cx="472" cy="285.9" r="4.25"/><circle cx="484.3" cy="279.7" r="4.25"/><circle cx="495.6" cy="270.7" r="4.25"/><circle cx="479.3" cy="295.5" r="4.25"/><circle cx="485.5" cy="294.7" r="4.25"/><circle cx="491.7" cy="297.8" r="4.25"/><circle cx="485.5" cy="304" r="4.25"/><circle cx="486" cy="314.1" r="4.25"/><circle cx="491.7" cy="287" r="4.25"/><circle cx="497.9" cy="284.7" r="4.25"/><circle cx="504.1" cy="283.1" r="4.25"/><circle cx="502.6" cy="293.2" r="4.25"/><circle cx="504.1" cy="300.2" r="4.25"/><circle cx="513.4" cy="288.5" r="4.25"/><circle cx="508.8" cy="280" r="4.25"/><circle cx="515" cy="272.2" r="4.25"/><circle cx="508.8" cy="273.8" r="4.25"/><circle cx="502.6" cy="273" r="4.25"/><circle cx="502.6" cy="261.4" r="4.25"/><circle cx="507.2" cy="256" r="4.25"/><circle cx="510.3" cy="263.7" r="4.25"/><circle cx="505.7" cy="267.6" r="4.25"/><circle cx="515" cy="265.3" r="4.25"/><circle cx="521.2" cy="259.8" r="4.25"/><circle cx="523.5" cy="252.8" r="4.25"/><circle cx="519.6" cy="263.7" r="4.25"/><circle cx="498" cy="265" r="4.25"/><circle cx="511" cy="268" r="4.25"/><circle cx="517" cy="268.5" r="4.25"/><circle cx="512" cy="276" r="4.25"/><circle cx="505" cy="278" r="4.25"/><circle cx="499" cy="279" r="4.25"/><circle cx="510" cy="285" r="4.25"/><circle cx="497" cy="290.5" r="4.25"/><circle cx="518" cy="256.5" r="4.25"/><circle cx="513" cy="260" r="4.25"/><circle cx="506" cy="288" r="4.25"/><circle cx="433.6" cy="306.2" r="4.25"/><circle cx="439.8" cy="304.7" r="4.25"/><circle cx="446" cy="303.1" r="4.25"/><circle cx="460" cy="306.2" r="4.25"/><circle cx="466.2" cy="307" r="4.25"/><circle cx="470.9" cy="305.4" r="4.25"/><circle cx="476.8" cy="307.8" r="4.25"/><circle cx="485.6" cy="304.7" r="4.25"/><circle cx="486.1" cy="314" r="4.25"/><circle cx="504.2" cy="301.6" r="4.25"/><circle cx="434.4" cy="315.5" r="4.25"/><circle cx="447.6" cy="316.3" r="4.25"/><circle cx="452.2" cy="318.6" r="4.25"/><circle cx="464.7" cy="320.2" r="4.25"/><circle cx="433.6" cy="324" r="4.25"/><circle cx="439.8" cy="323.3" r="4.25"/><circle cx="446" cy="323.3" r="4.25"/><circle cx="453" cy="324.8" r="4.25"/><circle cx="436.7" cy="330.3" r="4.25"/><circle cx="449.9" cy="330.3" r="4.25"/><circle cx="463.4" cy="330.3" r="4.25"/><circle cx="456.1" cy="333.4" r="4.25"/><circle cx="438.3" cy="336.5" r="4.25"/><circle cx="444.5" cy="336.5" r="4.25"/><circle cx="450.7" cy="336.5" r="4.25"/><circle cx="455.7" cy="338.8" r="4.25"/><circle cx="465.4" cy="339.6" r="4.25"/><circle cx="445.3" cy="342.7" r="4.25"/><circle cx="452.2" cy="343.4" r="4.25"/><circle cx="455.3" cy="346.5" r="4.25"/><circle cx="448.4" cy="348.9" r="4.25"/><circle cx="453.8" cy="351.2" r="4.25"/><circle cx="440.6" cy="355.9" r="4.25"/><circle cx="449.9" cy="355.1" r="4.25"/><circle cx="453" cy="357.4" r="4.25"/><circle cx="482" cy="346.5" r="4.25"/><circle cx="465.4" cy="360.2" r="4.25"/><circle cx="456.1" cy="363.6" r="4.25"/><circle cx="442.2" cy="366.4" r="4.25"/><circle cx="456.1" cy="369" r="4.25"/><circle cx="446.8" cy="372.9" r="4.25"/><circle cx="451.5" cy="360.5" r="4.25"/><circle cx="440.0" cy="274.6" r="4.25"/><circle cx="442.4" cy="280.8" r="4.25"/><circle cx="457.7" cy="275.8" r="4.25"/><circle cx="458.0" cy="277.3" r="4.25"/><circle cx="452.9" cy="280.1" r="4.25"/><circle cx="457.6" cy="280.2" r="4.25"/><circle cx="453.8" cy="282.6" r="4.25"/><circle cx="456.8" cy="282.4" r="4.25"/><circle cx="453.6" cy="281.8" r="4.25"/><circle cx="446.4" cy="283.5" r="4.25"/><circle cx="450.7" cy="283.7" r="4.25"/><circle cx="453.3" cy="283.6" r="4.25"/><circle cx="449.2" cy="286.4" r="4.25"/><circle cx="454.5" cy="283.4" r="4.25"/><circle cx="458.0" cy="283.9" r="4.25"/><circle cx="447.4" cy="285.2" r="4.25"/><circle cx="443.0" cy="287.3" r="4.25"/><circle cx="445.8" cy="287.8" r="4.25"/><circle cx="455.0" cy="286.3" r="4.25"/><circle cx="450.2" cy="288.5" r="4.25"/><circle cx="453.1" cy="288.3" r="4.25"/><circle cx="456.9" cy="288.8" r="4.25"/><circle cx="438.4" cy="290.4" r="4.25"/><circle cx="434.7" cy="294.2" r="4.25"/><circle cx="437.7" cy="293.8" r="4.25"/><circle cx="445.4" cy="291.3" r="4.25"/><circle cx="441.0" cy="293.5" r="4.25"/><circle cx="444.2" cy="293.5" r="4.25"/><circle cx="452.0" cy="290.6" r="4.25"/><circle cx="447.8" cy="293.8" r="4.25"/><circle cx="454.9" cy="295.3" r="4.25"/><circle cx="437.9" cy="296.9" r="4.25"/><circle cx="435.0" cy="299.9" r="4.25"/><circle cx="437.5" cy="300.5" r="4.25"/><circle cx="433.7" cy="302.1" r="4.25"/><circle cx="437.0" cy="300.6" r="4.25"/><circle cx="443.3" cy="296.6" r="4.25"/><circle cx="438.0" cy="300.6" r="4.25"/><circle cx="440.5" cy="300.1" r="4.25"/><circle cx="444.1" cy="299.9" r="4.25"/><circle cx="439.8" cy="300.5" r="4.25"/><circle cx="442.8" cy="300.0" r="4.25"/><circle cx="444.4" cy="300.2" r="4.25"/><circle cx="447.7" cy="299.5" r="4.25"/><circle cx="451.0" cy="298.1" r="4.25"/><circle cx="446.0" cy="300.1" r="4.25"/><circle cx="449.7" cy="298.8" r="4.25"/><circle cx="438.4" cy="303.2" r="4.25"/><circle cx="434.6" cy="306.2" r="4.25"/><circle cx="437.5" cy="305.9" r="4.25"/><circle cx="434.1" cy="304.6" r="4.25"/><circle cx="437.9" cy="303.6" r="4.25"/><circle cx="445.3" cy="302.2" r="4.25"/><circle cx="437.7" cy="306.7" r="4.25"/><circle cx="441.2" cy="306.3" r="4.25"/><circle cx="443.5" cy="305.6" r="4.25"/><circle cx="437.3" cy="305.2" r="4.25"/><circle cx="443.3" cy="303.1" r="4.25"/><circle cx="451.8" cy="300.5" r="4.25"/><circle cx="444.3" cy="302.7" r="4.25"/><circle cx="446.7" cy="302.0" r="4.25"/><circle cx="450.7" cy="301.8" r="4.25"/><circle cx="456.7" cy="303.3" r="4.25"/><circle cx="450.1" cy="301.4" r="4.25"/><circle cx="453.8" cy="301.4" r="4.25"/><circle cx="457.0" cy="303.4" r="4.25"/><circle cx="461.3" cy="305.8" r="4.25"/><circle cx="455.7" cy="304.1" r="4.25"/><circle cx="462.7" cy="305.8" r="4.25"/><circle cx="468.2" cy="306.5" r="4.25"/><circle cx="462.2" cy="306.1" r="4.25"/><circle cx="467.7" cy="305.9" r="4.25"/><circle cx="474.3" cy="306.4" r="4.25"/><circle cx="468.8" cy="306.5" r="4.25"/><circle cx="474.1" cy="307.0" r="4.25"/><circle cx="481.4" cy="305.8" r="4.25"/><circle cx="473.8" cy="306.5" r="4.25"/><circle cx="481.6" cy="305.9" r="4.25"/><circle cx="437.1" cy="309.8" r="4.25"/><circle cx="434.0" cy="312.2" r="4.25"/><circle cx="436.9" cy="312.7" r="4.25"/><circle cx="433.8" cy="308.3" r="4.25"/><circle cx="437.4" cy="307.6" r="4.25"/><circle cx="434.1" cy="312.1" r="4.25"/><circle cx="437.0" cy="311.3" r="4.25"/><circle cx="443.8" cy="308.6" r="4.25"/><circle cx="437.1" cy="312.5" r="4.25"/><circle cx="437.3" cy="308.2" r="4.25"/><circle cx="440.3" cy="306.7" r="4.25"/><circle cx="443.6" cy="306.1" r="4.25"/><circle cx="437.5" cy="312.4" r="4.25"/><circle cx="440.8" cy="311.0" r="4.25"/><circle cx="443.3" cy="306.1" r="4.25"/><circle cx="444.0" cy="310.7" r="4.25"/><circle cx="452.6" cy="315.1" r="4.25"/><circle cx="434.5" cy="319.1" r="4.25"/><circle cx="434.4" cy="310.6" r="4.25"/><circle cx="433.7" cy="319.7" r="4.25"/><circle cx="436.7" cy="319.2" r="4.25"/><circle cx="450.7" cy="316.0" r="4.25"/><circle cx="449.0" cy="318.6" r="4.25"/><circle cx="450.1" cy="317.1" r="4.25"/><circle cx="447.5" cy="320.0" r="4.25"/><circle cx="451.2" cy="319.2" r="4.25"/><circle cx="449.8" cy="317.2" r="4.25"/><circle cx="449.4" cy="320.6" r="4.25"/><circle cx="452.9" cy="321.4" r="4.25"/><circle cx="438.6" cy="321.6" r="4.25"/><circle cx="434.3" cy="318.8" r="4.25"/><circle cx="434.5" cy="323.4" r="4.25"/><circle cx="437.0" cy="322.7" r="4.25"/><circle cx="435.8" cy="326.1" r="4.25"/><circle cx="445.6" cy="321.7" r="4.25"/><circle cx="438.2" cy="323.4" r="4.25"/><circle cx="444.5" cy="323.1" r="4.25"/><circle cx="442.5" cy="325.3" r="4.25"/><circle cx="449.1" cy="319.0" r="4.25"/><circle cx="451.4" cy="320.4" r="4.25"/><circle cx="448.2" cy="322.3" r="4.25"/><circle cx="451.7" cy="323.1" r="4.25"/><circle cx="449.8" cy="326.4" r="4.25"/><circle cx="499.4" cy="271.5" r="4.25"/><circle cx="496.5" cy="267.7" r="4.25"/><circle cx="497.3" cy="274.7" r="4.25"/><circle cx="488.2" cy="296.0" r="4.25"/><circle cx="485.7" cy="299.7" r="4.25"/><circle cx="488.1" cy="301.0" r="4.25"/><circle cx="494.6" cy="293.7" r="4.25"/><circle cx="489.0" cy="300.9" r="4.25"/><circle cx="481.2" cy="306.0" r="4.25"/><circle cx="501.1" cy="283.7" r="4.25"/><circle cx="498.4" cy="281.9" r="4.25"/><circle cx="497.4" cy="287.8" r="4.25"/><circle cx="501.9" cy="286.3" r="4.25"/><circle cx="506.0" cy="281.7" r="4.25"/><circle cx="504.5" cy="280.3" r="4.25"/><circle cx="501.8" cy="281.3" r="4.25"/><circle cx="507.0" cy="283.7" r="4.25"/><circle cx="505.0" cy="285.2" r="4.25"/><circle cx="499.4" cy="291.8" r="4.25"/><circle cx="503.9" cy="290.5" r="4.25"/><circle cx="508.8" cy="276.4" r="4.25"/><circle cx="505.8" cy="276.1" r="4.25"/><circle cx="510.6" cy="278.3" r="4.25"/><circle cx="506.9" cy="278.6" r="4.25"/><circle cx="509.4" cy="282.4" r="4.25"/><circle cx="507.9" cy="283.6" r="4.25"/><circle cx="512.3" cy="273.5" r="4.25"/><circle cx="515.2" cy="269.1" r="4.25"/><circle cx="512.7" cy="270.6" r="4.25"/><circle cx="516.0" cy="270.8" r="4.25"/><circle cx="513.9" cy="273.8" r="4.25"/><circle cx="506.0" cy="273.8" r="4.25"/><circle cx="506.8" cy="270.6" r="4.25"/><circle cx="510.2" cy="270.6" r="4.25"/><circle cx="510.8" cy="274.7" r="4.25"/><circle cx="507.2" cy="275.5" r="4.25"/><circle cx="504.2" cy="270.7" r="4.25"/><circle cx="500.0" cy="268.8" r="4.25"/><circle cx="503.8" cy="275.3" r="4.25"/><circle cx="500.3" cy="275.7" r="4.25"/><circle cx="504.6" cy="259.1" r="4.25"/><circle cx="506.6" cy="262.9" r="4.25"/><circle cx="503.8" cy="264.8" r="4.25"/><circle cx="499.9" cy="263.2" r="4.25"/><circle cx="508.9" cy="259.7" r="4.25"/><circle cx="510.5" cy="258.1" r="4.25"/><circle cx="508.1" cy="266.0" r="4.25"/><circle cx="512.3" cy="265.0" r="4.25"/><circle cx="515.1" cy="263.6" r="4.25"/><circle cx="510.9" cy="265.6" r="4.25"/><circle cx="514.1" cy="266.2" r="4.25"/><circle cx="511.5" cy="262.1" r="4.25"/><circle cx="510.3" cy="266.1" r="4.25"/><circle cx="502.1" cy="265.8" r="4.25"/><circle cx="508.7" cy="267.6" r="4.25"/><circle cx="518.2" cy="263.0" r="4.25"/><circle cx="517.4" cy="264.7" r="4.25"/><circle cx="512.8" cy="266.2" r="4.25"/><circle cx="515.5" cy="266.5" r="4.25"/><circle cx="516.6" cy="260.8" r="4.25"/><circle cx="514.0" cy="263.0" r="4.25"/><circle cx="520.0" cy="261.5" r="4.25"/><circle cx="519.8" cy="257.7" r="4.25"/><circle cx="516.6" cy="259.8" r="4.25"/><circle cx="517.9" cy="266.0" r="4.25"/><circle cx="518.5" cy="260.2" r="4.25"/><circle cx="516.4" cy="261.6" r="4.25"/><circle cx="514.1" cy="268.2" r="4.25"/><circle cx="511.1" cy="272.4" r="4.25"/><circle cx="511.7" cy="263.6" r="4.25"/><circle cx="514.1" cy="272.4" r="4.25"/><circle cx="515.4" cy="264.5" r="4.25"/><circle cx="508.4" cy="276.8" r="4.25"/><circle cx="510.5" cy="280.6" r="4.25"/><circle cx="502.1" cy="278.4" r="4.25"/><circle cx="507.6" cy="281.4" r="4.25"/><circle cx="508.4" cy="286.7" r="4.25"/><circle cx="501.2" cy="289.7" r="4.25"/><circle cx="515.0" cy="258.3" r="4.25"/><circle cx="436.6" cy="305.2" r="4.25"/><circle cx="433.6" cy="311.1" r="4.25"/><circle cx="442.4" cy="304.0" r="4.25"/><circle cx="440.6" cy="308.6" r="4.25"/><circle cx="456.1" cy="304.4" r="4.25"/><circle cx="462.9" cy="306.4" r="4.25"/><circle cx="468.8" cy="306.4" r="4.25"/><circle cx="473.4" cy="306.9" r="4.25"/><circle cx="481.4" cy="306.2" r="4.25"/><circle cx="433.7" cy="319.4" r="4.25"/><circle cx="452.4" cy="314.9" r="4.25"/><circle cx="450.0" cy="317.4" r="4.25"/><circle cx="447.1" cy="319.8" r="4.25"/><circle cx="448.9" cy="321.1" r="4.25"/><circle cx="453.1" cy="321.4" r="4.25"/><circle cx="437.1" cy="323.2" r="4.25"/><circle cx="434.9" cy="326.9" r="4.25"/><circle cx="443.1" cy="323.7" r="4.25"/><circle cx="438.5" cy="326.6" r="4.25"/><circle cx="441.7" cy="326.2" r="4.25"/><circle cx="449.2" cy="324.5" r="4.25"/><circle cx="444.6" cy="326.6" r="4.25"/><circle cx="448.1" cy="327.3" r="4.25"/><circle cx="451.4" cy="327.9" r="4.25"/><circle cx="454.7" cy="329.5" r="4.25"/><circle cx="437.6" cy="333.2" r="4.25"/><circle cx="452.6" cy="332.3" r="4.25"/><circle cx="447.0" cy="333.0" r="4.25"/><circle cx="449.8" cy="332.9" r="4.25"/><circle cx="453.6" cy="335.1" r="4.25"/><circle cx="456.1" cy="336.3" r="4.25"/><circle cx="441.0" cy="336.6" r="4.25"/><circle cx="438.5" cy="339.9" r="4.25"/><circle cx="442.1" cy="340.0" r="4.25"/><circle cx="447.2" cy="336.9" r="4.25"/><circle cx="442.2" cy="340.0" r="4.25"/><circle cx="444.5" cy="339.3" r="4.25"/><circle cx="452.8" cy="337.2" r="4.25"/><circle cx="448.3" cy="339.9" r="4.25"/><circle cx="451.6" cy="340.3" r="4.25"/><circle cx="454.1" cy="340.9" r="4.25"/><circle cx="455.1" cy="342.2" r="4.25"/><circle cx="442.4" cy="342.4" r="4.25"/><circle cx="448.6" cy="343.0" r="4.25"/><circle cx="446.4" cy="345.6" r="4.25"/><circle cx="453.5" cy="345.2" r="4.25"/><circle cx="450.2" cy="346.0" r="4.25"/><circle cx="453.5" cy="347.3" r="4.25"/><circle cx="452.2" cy="347.8" r="4.25"/><circle cx="454.1" cy="348.8" r="4.25"/><circle cx="451.0" cy="350.3" r="4.25"/><circle cx="449.0" cy="352.2" r="4.25"/><circle cx="451.9" cy="352.9" r="4.25"/><circle cx="453.8" cy="353.9" r="4.25"/><circle cx="453.0" cy="355.5" r="4.25"/><circle cx="451.0" cy="356.0" r="4.25"/><circle cx="451.0" cy="358.3" r="4.25"/><circle cx="454.1" cy="360.5" r="4.25"/><circle cx="452.2" cy="359.2" r="4.25"/><circle cx="453.5" cy="362.0" r="4.25"/></g>
<g fill="#1b75bb"><circle cx="654" cy="177.7" r="4.25"/><circle cx="642.8" cy="181.8" r="4.25"/><circle cx="658.3" cy="183.6" r="4.25"/><circle cx="656.8" cy="188.3" r="4.25"/><circle cx="627.9" cy="189" r="4.25"/><circle cx="669.2" cy="194.2" r="4.25"/><circle cx="625.3" cy="196.8" r="4.25"/><circle cx="624.9" cy="199.9" r="4.25"/><circle cx="634.6" cy="198.4" r="4.25"/><circle cx="643.1" cy="197.6" r="4.25"/><circle cx="650.1" cy="195.3" r="4.25"/><circle cx="649.3" cy="199.9" r="4.25"/><circle cx="641.5" cy="202.2" r="4.25"/><circle cx="656.3" cy="201.5" r="4.25"/><circle cx="660.9" cy="202.2" r="4.25"/><circle cx="635.3" cy="206.1" r="4.25"/><circle cx="628.4" cy="208.4" r="4.25"/><circle cx="643.1" cy="208.4" r="4.25"/><circle cx="650.1" cy="206.9" r="4.25"/><circle cx="657.1" cy="207.7" r="4.25"/><circle cx="660.9" cy="206.9" r="4.25"/><circle cx="640" cy="213.1" r="4.25"/><circle cx="647.8" cy="213.1" r="4.25"/><circle cx="654.7" cy="213.1" r="4.25"/><circle cx="659.4" cy="212.3" r="4.25"/><circle cx="644.7" cy="218.5" r="4.25"/><circle cx="652.4" cy="218.5" r="4.25"/><circle cx="658.6" cy="218.5" r="4.25"/><circle cx="626" cy="220.9" r="4.25"/><circle cx="632.2" cy="223.2" r="4.25"/><circle cx="614.4" cy="224.4" r="4.25"/><circle cx="671.8" cy="221.6" r="4.25"/><circle cx="622.9" cy="227.1" r="4.25"/><circle cx="629.1" cy="228.6" r="4.25"/><circle cx="635.3" cy="227.1" r="4.25"/><circle cx="643.1" cy="224.7" r="4.25"/><circle cx="650.1" cy="224.7" r="4.25"/><circle cx="657.1" cy="225.5" r="4.25"/><circle cx="663.3" cy="225.5" r="4.25"/><circle cx="671" cy="227.1" r="4.25"/><circle cx="677.2" cy="231.7" r="4.25"/><circle cx="621.4" cy="233.3" r="4.25"/><circle cx="628.4" cy="234" r="4.25"/><circle cx="635.3" cy="233.3" r="4.25"/><circle cx="642.3" cy="231.7" r="4.25"/><circle cx="649.3" cy="231.7" r="4.25"/><circle cx="656.3" cy="232.5" r="4.25"/><circle cx="661.7" cy="230.9" r="4.25"/><circle cx="674.9" cy="236.4" r="4.25"/><circle cx="622.9" cy="238.7" r="4.25"/><circle cx="630.7" cy="239.5" r="4.25"/><circle cx="638.4" cy="239.5" r="4.25"/><circle cx="646.2" cy="238.7" r="4.25"/><circle cx="653.2" cy="238.7" r="4.25"/><circle cx="659.4" cy="239.5" r="4.25"/><circle cx="667.9" cy="241" r="4.25"/><circle cx="672.6" cy="242.6" r="4.25"/><circle cx="638.4" cy="245.7" r="4.25"/><circle cx="649.3" cy="245.7" r="4.25"/><circle cx="657.1" cy="245.7" r="4.25"/><circle cx="661.7" cy="247.2" r="4.25"/><circle cx="669.5" cy="247.2" r="4.25"/><circle cx="674.9" cy="250.3" r="4.25"/><circle cx="635.3" cy="251.9" r="4.25"/><circle cx="652.4" cy="251.9" r="4.25"/><circle cx="658.6" cy="251.9" r="4.25"/><circle cx="622.9" cy="238.9" r="4.25"/><circle cx="630.7" cy="236.6" r="4.25"/><circle cx="638.4" cy="241.2" r="4.25"/><circle cx="649.3" cy="239.7" r="4.25"/><circle cx="657.1" cy="241.2" r="4.25"/><circle cx="672.6" cy="239.7" r="4.25"/><circle cx="638.4" cy="248.2" r="4.25"/><circle cx="652.4" cy="247.4" r="4.25"/><circle cx="658.6" cy="249" r="4.25"/><circle cx="669.5" cy="246.6" r="4.25"/><circle cx="674.9" cy="250.5" r="4.25"/><circle cx="633" cy="255.2" r="4.25"/><circle cx="640" cy="255.2" r="4.25"/><circle cx="647.8" cy="255.2" r="4.25"/><circle cx="655.5" cy="253.6" r="4.25"/><circle cx="641.5" cy="260.6" r="4.25"/><circle cx="649.3" cy="260.6" r="4.25"/><circle cx="632.2" cy="263.7" r="4.25"/><circle cx="644.7" cy="266" r="4.25"/><circle cx="650.9" cy="266" r="4.25"/><circle cx="660.9" cy="262.9" r="4.25"/><circle cx="672.6" cy="264.5" r="4.25"/><circle cx="604.6" cy="265.7" r="4.25"/><circle cx="612.4" cy="263.7" r="4.25"/><circle cx="636.1" cy="268.4" r="4.25"/><circle cx="654" cy="271.5" r="4.25"/><circle cx="660.2" cy="269.1" r="4.25"/><circle cx="664.8" cy="267.6" r="4.25"/><circle cx="638.4" cy="273.8" r="4.25"/><circle cx="663.3" cy="274.6" r="4.25"/><circle cx="675.7" cy="278.4" r="4.25"/><circle cx="616.4" cy="278.4" r="4.25"/><circle cx="644.7" cy="279.2" r="4.25"/><circle cx="664.8" cy="280.8" r="4.25"/><circle cx="625.3" cy="281.5" r="4.25"/><circle cx="633" cy="281.5" r="4.25"/><circle cx="619.1" cy="282.3" r="4.25"/><circle cx="612.1" cy="285.4" r="4.25"/><circle cx="647.8" cy="284.7" r="4.25"/><circle cx="650.1" cy="288.1" r="4.25"/><circle cx="634.6" cy="290.9" r="4.25"/><circle cx="636.1" cy="296.3" r="4.25"/><circle cx="640.8" cy="298.9" r="4.25"/><circle cx="663.3" cy="293.2" r="4.25"/><circle cx="661.7" cy="297.1" r="4.25"/><circle cx="659.4" cy="300.9" r="4.25"/><circle cx="643.1" cy="276.1" r="4.25"/><circle cx="629.8" cy="197.9" r="4.25"/><circle cx="638.6" cy="198.4" r="4.25"/><circle cx="637.8" cy="200.0" r="4.25"/><circle cx="635.1" cy="202.2" r="4.25"/><circle cx="646.2" cy="196.6" r="4.25"/><circle cx="645.8" cy="199.0" r="4.25"/><circle cx="642.5" cy="200.2" r="4.25"/><circle cx="649.8" cy="197.5" r="4.25"/><circle cx="653.1" cy="198.3" r="4.25"/><circle cx="645.8" cy="200.6" r="4.25"/><circle cx="653.2" cy="200.2" r="4.25"/><circle cx="649.4" cy="203.2" r="4.25"/><circle cx="638.8" cy="204.2" r="4.25"/><circle cx="642.2" cy="205.7" r="4.25"/><circle cx="658.3" cy="201.8" r="4.25"/><circle cx="653.2" cy="204.5" r="4.25"/><circle cx="657.0" cy="204.7" r="4.25"/><circle cx="658.4" cy="204.0" r="4.25"/><circle cx="658.7" cy="205.3" r="4.25"/><circle cx="661.1" cy="204.8" r="4.25"/><circle cx="631.5" cy="207.2" r="4.25"/><circle cx="639.5" cy="207.3" r="4.25"/><circle cx="637.3" cy="209.6" r="4.25"/><circle cx="647.0" cy="207.4" r="4.25"/><circle cx="641.2" cy="210.6" r="4.25"/><circle cx="645.7" cy="211.1" r="4.25"/><circle cx="653.3" cy="207.0" r="4.25"/><circle cx="648.7" cy="209.8" r="4.25"/><circle cx="652.4" cy="209.7" r="4.25"/><circle cx="658.8" cy="207.0" r="4.25"/><circle cx="656.4" cy="210.6" r="4.25"/><circle cx="657.9" cy="210.5" r="4.25"/><circle cx="657.4" cy="209.9" r="4.25"/><circle cx="660.6" cy="209.9" r="4.25"/><circle cx="644.1" cy="213.0" r="4.25"/><circle cx="638.1" cy="215.6" r="4.25"/><circle cx="642.0" cy="215.5" r="4.25"/><circle cx="651.1" cy="212.6" r="4.25"/><circle cx="646.1" cy="216.1" r="4.25"/><circle cx="650.3" cy="215.8" r="4.25"/><circle cx="657.2" cy="212.7" r="4.25"/><circle cx="653.2" cy="215.9" r="4.25"/><circle cx="656.6" cy="216.0" r="4.25"/><circle cx="656.3" cy="215.3" r="4.25"/><circle cx="659.1" cy="215.6" r="4.25"/><circle cx="640.7" cy="217.9" r="4.25"/><circle cx="634.8" cy="220.9" r="4.25"/><circle cx="636.4" cy="222.7" r="4.25"/><circle cx="640.4" cy="221.4" r="4.25"/><circle cx="648.7" cy="218.5" r="4.25"/><circle cx="643.7" cy="221.7" r="4.25"/><circle cx="647.0" cy="221.5" r="4.25"/><circle cx="655.8" cy="218.7" r="4.25"/><circle cx="651.4" cy="221.4" r="4.25"/><circle cx="654.7" cy="222.0" r="4.25"/><circle cx="658.0" cy="221.9" r="4.25"/><circle cx="661.1" cy="222.4" r="4.25"/><circle cx="628.8" cy="222.2" r="4.25"/><circle cx="624.7" cy="223.9" r="4.25"/><circle cx="627.5" cy="225.2" r="4.25"/><circle cx="630.2" cy="225.9" r="4.25"/><circle cx="633.4" cy="225.4" r="4.25"/><circle cx="626.4" cy="227.9" r="4.25"/><circle cx="621.8" cy="230.3" r="4.25"/><circle cx="625.7" cy="230.8" r="4.25"/><circle cx="632.2" cy="228.0" r="4.25"/><circle cx="625.6" cy="231.0" r="4.25"/><circle cx="628.7" cy="231.7" r="4.25"/><circle cx="631.9" cy="231.1" r="4.25"/><circle cx="629.8" cy="232.9" r="4.25"/><circle cx="638.8" cy="226.4" r="4.25"/><circle cx="635.2" cy="229.8" r="4.25"/><circle cx="638.6" cy="229.3" r="4.25"/><circle cx="646.1" cy="224.6" r="4.25"/><circle cx="642.6" cy="228.4" r="4.25"/><circle cx="646.1" cy="228.0" r="4.25"/><circle cx="653.3" cy="225.3" r="4.25"/><circle cx="650.1" cy="228.2" r="4.25"/><circle cx="659.9" cy="225.8" r="4.25"/><circle cx="656.6" cy="228.7" r="4.25"/><circle cx="659.0" cy="228.5" r="4.25"/><circle cx="667.5" cy="226.4" r="4.25"/><circle cx="662.5" cy="228.3" r="4.25"/><circle cx="673.8" cy="229.9" r="4.25"/><circle cx="670.1" cy="230.3" r="4.25"/><circle cx="673.7" cy="232.8" r="4.25"/><circle cx="676.0" cy="233.8" r="4.25"/><circle cx="674.9" cy="235.3" r="4.25"/><circle cx="625.2" cy="233.5" r="4.25"/><circle cx="622.5" cy="235.8" r="4.25"/><circle cx="622.0" cy="235.9" r="4.25"/><circle cx="631.8" cy="233.3" r="4.25"/><circle cx="625.2" cy="236.6" r="4.25"/><circle cx="629.3" cy="236.5" r="4.25"/><circle cx="625.5" cy="236.4" r="4.25"/><circle cx="629.5" cy="235.4" r="4.25"/><circle cx="639.0" cy="232.4" r="4.25"/><circle cx="633.4" cy="236.8" r="4.25"/><circle cx="636.4" cy="236.7" r="4.25"/><circle cx="633.4" cy="235.2" r="4.25"/><circle cx="636.5" cy="237.6" r="4.25"/><circle cx="645.9" cy="231.2" r="4.25"/><circle cx="639.9" cy="236.1" r="4.25"/><circle cx="644.4" cy="235.0" r="4.25"/><circle cx="652.4" cy="231.7" r="4.25"/><circle cx="647.5" cy="235.5" r="4.25"/><circle cx="651.1" cy="234.9" r="4.25"/><circle cx="649.7" cy="236.0" r="4.25"/><circle cx="658.7" cy="232.1" r="4.25"/><circle cx="654.9" cy="235.9" r="4.25"/><circle cx="658.0" cy="236.4" r="4.25"/><circle cx="657.0" cy="237.2" r="4.25"/><circle cx="672.3" cy="234.6" r="4.25"/><circle cx="671.0" cy="236.1" r="4.25"/><circle cx="671.4" cy="238.7" r="4.25"/><circle cx="673.8" cy="239.9" r="4.25"/><circle cx="673.3" cy="238.4" r="4.25"/><circle cx="626.8" cy="239.2" r="4.25"/><circle cx="627.0" cy="238.0" r="4.25"/><circle cx="634.4" cy="239.4" r="4.25"/><circle cx="627.3" cy="238.8" r="4.25"/><circle cx="630.8" cy="238.2" r="4.25"/><circle cx="634.1" cy="240.5" r="4.25"/><circle cx="642.5" cy="239.5" r="4.25"/><circle cx="638.2" cy="243.1" r="4.25"/><circle cx="634.6" cy="238.0" r="4.25"/><circle cx="638.8" cy="243.4" r="4.25"/><circle cx="649.9" cy="238.8" r="4.25"/><circle cx="647.6" cy="242.6" r="4.25"/><circle cx="642.2" cy="239.9" r="4.25"/><circle cx="647.8" cy="239.5" r="4.25"/><circle cx="656.0" cy="239.0" r="4.25"/><circle cx="651.2" cy="242.3" r="4.25"/><circle cx="655.5" cy="242.0" r="4.25"/><circle cx="651.6" cy="239.1" r="4.25"/><circle cx="655.2" cy="239.7" r="4.25"/><circle cx="652.8" cy="243.5" r="4.25"/><circle cx="658.1" cy="242.4" r="4.25"/><circle cx="660.3" cy="243.4" r="4.25"/><circle cx="658.4" cy="240.6" r="4.25"/><circle cx="661.6" cy="239.8" r="4.25"/><circle cx="659.4" cy="244.3" r="4.25"/><circle cx="669.8" cy="241.6" r="4.25"/><circle cx="664.3" cy="243.8" r="4.25"/><circle cx="669.1" cy="244.2" r="4.25"/><circle cx="666.5" cy="240.6" r="4.25"/><circle cx="670.7" cy="240.5" r="4.25"/><circle cx="668.8" cy="243.9" r="4.25"/><circle cx="671.2" cy="245.0" r="4.25"/><circle cx="673.9" cy="246.2" r="4.25"/><circle cx="668.9" cy="241.1" r="4.25"/><circle cx="672.9" cy="240.8" r="4.25"/><circle cx="670.7" cy="244.1" r="4.25"/><circle cx="674.0" cy="247.0" r="4.25"/><circle cx="637.0" cy="248.7" r="4.25"/><circle cx="638.5" cy="243.2" r="4.25"/><circle cx="653.0" cy="245.6" r="4.25"/><circle cx="650.7" cy="248.7" r="4.25"/><circle cx="649.4" cy="243.1" r="4.25"/><circle cx="652.8" cy="243.5" r="4.25"/><circle cx="650.4" cy="246.2" r="4.25"/><circle cx="659.7" cy="246.5" r="4.25"/><circle cx="655.2" cy="248.7" r="4.25"/><circle cx="657.4" cy="248.7" r="4.25"/><circle cx="657.2" cy="243.9" r="4.25"/><circle cx="655.2" cy="246.5" r="4.25"/><circle cx="657.8" cy="247.0" r="4.25"/><circle cx="656.4" cy="249.4" r="4.25"/><circle cx="665.3" cy="246.7" r="4.25"/><circle cx="659.7" cy="249.7" r="4.25"/><circle cx="659.0" cy="244.7" r="4.25"/><circle cx="662.8" cy="243.8" r="4.25"/><circle cx="656.7" cy="246.8" r="4.25"/><circle cx="660.4" cy="247.8" r="4.25"/><circle cx="665.8" cy="246.6" r="4.25"/><circle cx="658.2" cy="250.7" r="4.25"/><circle cx="672.4" cy="249.1" r="4.25"/><circle cx="667.4" cy="243.0" r="4.25"/><circle cx="671.2" cy="243.7" r="4.25"/><circle cx="672.2" cy="249.3" r="4.25"/><circle cx="672.0" cy="248.9" r="4.25"/><circle cx="638.6" cy="251.4" r="4.25"/><circle cx="636.4" cy="250.2" r="4.25"/><circle cx="634.5" cy="253.1" r="4.25"/><circle cx="637.5" cy="253.8" r="4.25"/><circle cx="637.2" cy="253.1" r="4.25"/><circle cx="640.6" cy="253.6" r="4.25"/><circle cx="641.1" cy="256.5" r="4.25"/><circle cx="655.4" cy="252.0" r="4.25"/><circle cx="652.5" cy="249.6" r="4.25"/><circle cx="655.4" cy="250.7" r="4.25"/><circle cx="650.5" cy="253.8" r="4.25"/><circle cx="654.0" cy="252.5" r="4.25"/><circle cx="650.4" cy="256.7" r="4.25"/><circle cx="655.7" cy="250.0" r="4.25"/><circle cx="658.4" cy="250.6" r="4.25"/><circle cx="657.5" cy="253.1" r="4.25"/><circle cx="626.9" cy="237.6" r="4.25"/><circle cx="634.5" cy="239.3" r="4.25"/><circle cx="638.3" cy="244.9" r="4.25"/><circle cx="653.3" cy="240.8" r="4.25"/><circle cx="651.2" cy="243.3" r="4.25"/><circle cx="660.5" cy="240.2" r="4.25"/><circle cx="654.7" cy="244.4" r="4.25"/><circle cx="658.2" cy="245.5" r="4.25"/><circle cx="668.2" cy="240.0" r="4.25"/><circle cx="667.5" cy="243.5" r="4.25"/><circle cx="671.1" cy="242.9" r="4.25"/><circle cx="636.1" cy="252.0" r="4.25"/><circle cx="639.4" cy="252.1" r="4.25"/><circle cx="655.3" cy="247.8" r="4.25"/><circle cx="650.2" cy="251.6" r="4.25"/><circle cx="653.7" cy="250.8" r="4.25"/><circle cx="657.5" cy="251.0" r="4.25"/><circle cx="672.3" cy="248.7" r="4.25"/><circle cx="636.5" cy="254.9" r="4.25"/><circle cx="643.7" cy="255.5" r="4.25"/><circle cx="641.0" cy="257.9" r="4.25"/><circle cx="651.2" cy="254.7" r="4.25"/><circle cx="644.9" cy="257.6" r="4.25"/><circle cx="648.6" cy="258.3" r="4.25"/><circle cx="652.8" cy="257.1" r="4.25"/><circle cx="645.4" cy="260.7" r="4.25"/><circle cx="642.8" cy="263.0" r="4.25"/><circle cx="638.5" cy="264.7" r="4.25"/><circle cx="646.9" cy="263.4" r="4.25"/><circle cx="650.0" cy="263.3" r="4.25"/><circle cx="647.4" cy="265.5" r="4.25"/><circle cx="640.9" cy="267.1" r="4.25"/><circle cx="636.9" cy="271.2" r="4.25"/><circle cx="662.8" cy="268.0" r="4.25"/><circle cx="661.8" cy="271.7" r="4.25"/><circle cx="664.1" cy="270.6" r="4.25"/><circle cx="641.1" cy="277.0" r="4.25"/><circle cx="636.1" cy="277.6" r="4.25"/><circle cx="620.9" cy="279.7" r="4.25"/><circle cx="618.0" cy="280.3" r="4.25"/><circle cx="629.6" cy="281.8" r="4.25"/><circle cx="622.5" cy="282.4" r="4.25"/></g>
<g fill="#e01f27"><circle cx="550.5" cy="377.5" r="4.25"/><circle cx="551.3" cy="381.2" r="4.25"/><circle cx="552.1" cy="389" r="4.25"/><circle cx="554.7" cy="395" r="4.25"/><circle cx="552.1" cy="399" r="4.25"/><circle cx="552.1" cy="435" r="4.25"/><circle cx="548.7" cy="440.7" r="4.25"/><circle cx="553.9" cy="440.7" r="4.25"/><circle cx="547.4" cy="447.2" r="4.25"/><circle cx="552.6" cy="447.2" r="4.25"/><circle cx="557.9" cy="447.2" r="4.25"/><circle cx="546.1" cy="453.8" r="4.25"/><circle cx="551.3" cy="453.8" r="4.25"/><circle cx="556.6" cy="453.8" r="4.25"/><circle cx="559.9" cy="455" r="4.25"/><circle cx="545.3" cy="460.3" r="4.25"/><circle cx="550" cy="460.3" r="4.25"/><circle cx="555.2" cy="460.3" r="4.25"/><circle cx="559.7" cy="461.6" r="4.25"/><circle cx="544" cy="465.5" r="4.25"/><circle cx="546.1" cy="469.4" r="4.25"/><circle cx="551.3" cy="468.1" r="4.25"/><circle cx="556.6" cy="468.1" r="4.25"/><circle cx="546.1" cy="474.7" r="4.25"/><circle cx="551.3" cy="474.7" r="4.25"/><circle cx="556" cy="473.4" r="4.25"/><circle cx="547.4" cy="479.9" r="4.25"/><circle cx="552.6" cy="479.9" r="4.25"/><circle cx="549.2" cy="483" r="4.25"/><circle cx="551.1" cy="440.2" r="4.25"/><circle cx="547.8" cy="443.6" r="4.25"/><circle cx="552.8" cy="443.5" r="4.25"/><circle cx="550.1" cy="447.6" r="4.25"/><circle cx="546.7" cy="450.9" r="4.25"/><circle cx="552.4" cy="450.1" r="4.25"/><circle cx="548.8" cy="453.7" r="4.25"/><circle cx="545.3" cy="457.5" r="4.25"/><circle cx="553.7" cy="453.9" r="4.25"/><circle cx="550.8" cy="457.5" r="4.25"/><circle cx="558.4" cy="454.3" r="4.25"/><circle cx="555.8" cy="456.7" r="4.25"/><circle cx="558.0" cy="458.1" r="4.25"/><circle cx="559.5" cy="457.8" r="4.25"/><circle cx="547.4" cy="460.2" r="4.25"/><circle cx="553.0" cy="460.7" r="4.25"/><circle cx="557.8" cy="460.5" r="4.25"/><circle cx="558.4" cy="465.1" r="4.25"/><circle cx="548.8" cy="469.2" r="4.25"/><circle cx="545.7" cy="471.7" r="4.25"/><circle cx="549.0" cy="472.5" r="4.25"/><circle cx="554.1" cy="467.9" r="4.25"/><circle cx="551.4" cy="471.7" r="4.25"/><circle cx="553.3" cy="470.6" r="4.25"/><circle cx="556.1" cy="470.4" r="4.25"/><circle cx="548.7" cy="474.4" r="4.25"/><circle cx="546.5" cy="476.9" r="4.25"/><circle cx="553.8" cy="473.6" r="4.25"/><circle cx="549.6" cy="477.0" r="4.25"/><circle cx="551.5" cy="477.7" r="4.25"/><circle cx="554.0" cy="477.1" r="4.25"/><circle cx="550.4" cy="480.3" r="4.25"/></g>
</svg>
<div class="sw" style="left:222px;background:#e01f27"></div><div class="leg" style="left:243.9px;transform:scaleX(0.92);">WNT</div>
<div class="sw" style="left:285px;background:#1b75bb"></div><div class="leg" style="left:305.3px;transform:scaleX(0.985);">SHH</div>
<div class="sw" style="left:345px;background:#13a64a"></div><div class="leg" style="left:365px;letter-spacing:0.2px;">Group3</div>
<div class="sw" style="left:426.5px;background:#8347a0"></div><div class="leg" style="left:447.7px;letter-spacing:0.2px;">Group4</div>
</body></html>
